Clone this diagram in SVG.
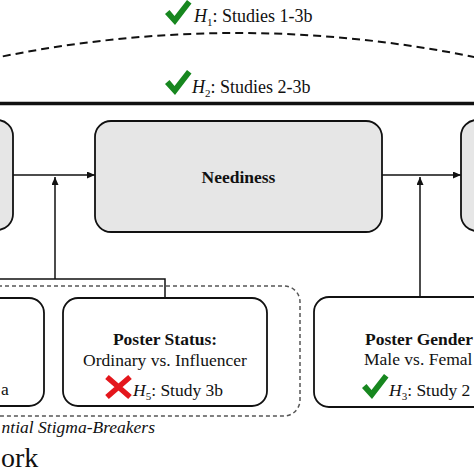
<svg xmlns="http://www.w3.org/2000/svg" xmlns:xlink="http://www.w3.org/1999/xlink" width="474" height="474" viewBox="0 0 474 474">
<style>
text{font-family:"Liberation Serif","Times New Roman",serif;fill:#111;}
.t{font-size:18px;}
.b{font-size:17.5px;font-weight:bold;}
.r{font-size:17.5px;}
.i{font-style:italic;}
.sub{font-size:11px;}
.gray{fill:#e6e6e6;stroke:#111;stroke-width:1.8;}
.white{fill:#fff;stroke:#111;stroke-width:1.8;}
.conn{fill:none;stroke:#111;stroke-width:1.5;}
.chk{fill:#17871f;}
.x{stroke:#e4161c;stroke-width:5.5;fill:none;}
</style>
<defs>
<marker id="ah" markerUnits="userSpaceOnUse" markerWidth="9" markerHeight="8" refX="8" refY="3.5" orient="auto">
<path d="M0,0 L8,3.5 L0,7 z" fill="#111"/>
</marker>
<polygon id="check" points="0,14 4.5,10 9.5,16 22,0 26.5,3.5 10,25"/>
</defs>
<rect width="474" height="474" fill="#fff"/>

<g id="h1-annotation">
<path d="M-10,59 Q237,7 484,59" fill="none" stroke="#111" stroke-width="2" stroke-dasharray="8,5"/>
<use xlink:href="#check" x="165" y="0" class="chk"/>
<text class="t" x="194" y="22"><tspan class="i">H</tspan><tspan class="sub" dy="4">1</tspan><tspan dy="-4">: Studies 1-3b</tspan></text>
</g>

<g id="h2-annotation">
<line x1="0" y1="103.5" x2="474" y2="103.5" stroke="#111" stroke-width="3.5"/>
<use xlink:href="#check" x="165" y="70" class="chk"/>
<text class="t" x="192" y="93"><tspan class="i">H</tspan><tspan class="sub" dy="4">2</tspan><tspan dy="-4">: Studies 2-3b</tspan></text>
</g>

<g id="connectors">
<path class="conn" d="M13,175 H95" marker-end="url(#ah)"/>
<path class="conn" d="M382,175 H461" marker-end="url(#ah)"/>
<path class="conn" d="M-5,279 H165 V298"/>
<path class="conn" d="M55,279 V177" marker-end="url(#ah)"/>
<path class="conn" d="M420,297 V177" marker-end="url(#ah)"/>
</g>

<g id="node-left-top">
<rect class="gray" x="-200" y="120" width="213" height="110" rx="16"/>
</g>

<g id="node-neediness">
<rect class="gray" x="95" y="121" width="287" height="111" rx="16"/>
<text class="b" x="238.5" y="183" text-anchor="middle">Neediness</text>
</g>

<g id="node-right-top">
<rect class="gray" x="461" y="120" width="200" height="111" rx="16"/>
</g>

<g id="group-stigma-breakers">
<rect x="-60" y="286" width="360" height="130" rx="16" fill="none" stroke="#555" stroke-width="1.5" stroke-dasharray="4,3"/>
<text class="r i" x="155" y="433" text-anchor="end">ntial Stigma-Breakers</text>
</g>

<g id="node-left-bottom">
<rect class="white" x="-170" y="298" width="214" height="108" rx="15"/>
<text class="r" x="1" y="395">a</text>
</g>

<g id="node-poster-status">
<rect class="white" x="63" y="298" width="204" height="108" rx="15"/>
<text class="b" x="165" y="345" text-anchor="middle">Poster Status:</text>
<text class="r" x="165" y="366" text-anchor="middle">Ordinary vs. Influencer</text>
<path class="x" d="M107,377 L130,397 M130,377 L107,397"/>
<text class="r" x="133" y="396"><tspan class="i">H</tspan><tspan class="sub" dy="4">5</tspan><tspan dy="-4">: Study 3b</tspan></text>
</g>

<g id="node-poster-gender">
<rect class="white" x="314" y="297" width="220" height="110" rx="15"/>
<text class="b" x="365" y="345">Poster Gender</text>
<text class="r" x="364" y="365">Male vs. Femal</text>
<use xlink:href="#check" x="362" y="374" class="chk"/>
<text class="r" x="389" y="396"><tspan class="i">H</tspan><tspan class="sub" dy="4">3</tspan><tspan dy="-4">: Study 2</tspan></text>
</g>

<g id="caption">
<text x="1" y="467" font-size="28">ork</text>
</g>
</svg>
